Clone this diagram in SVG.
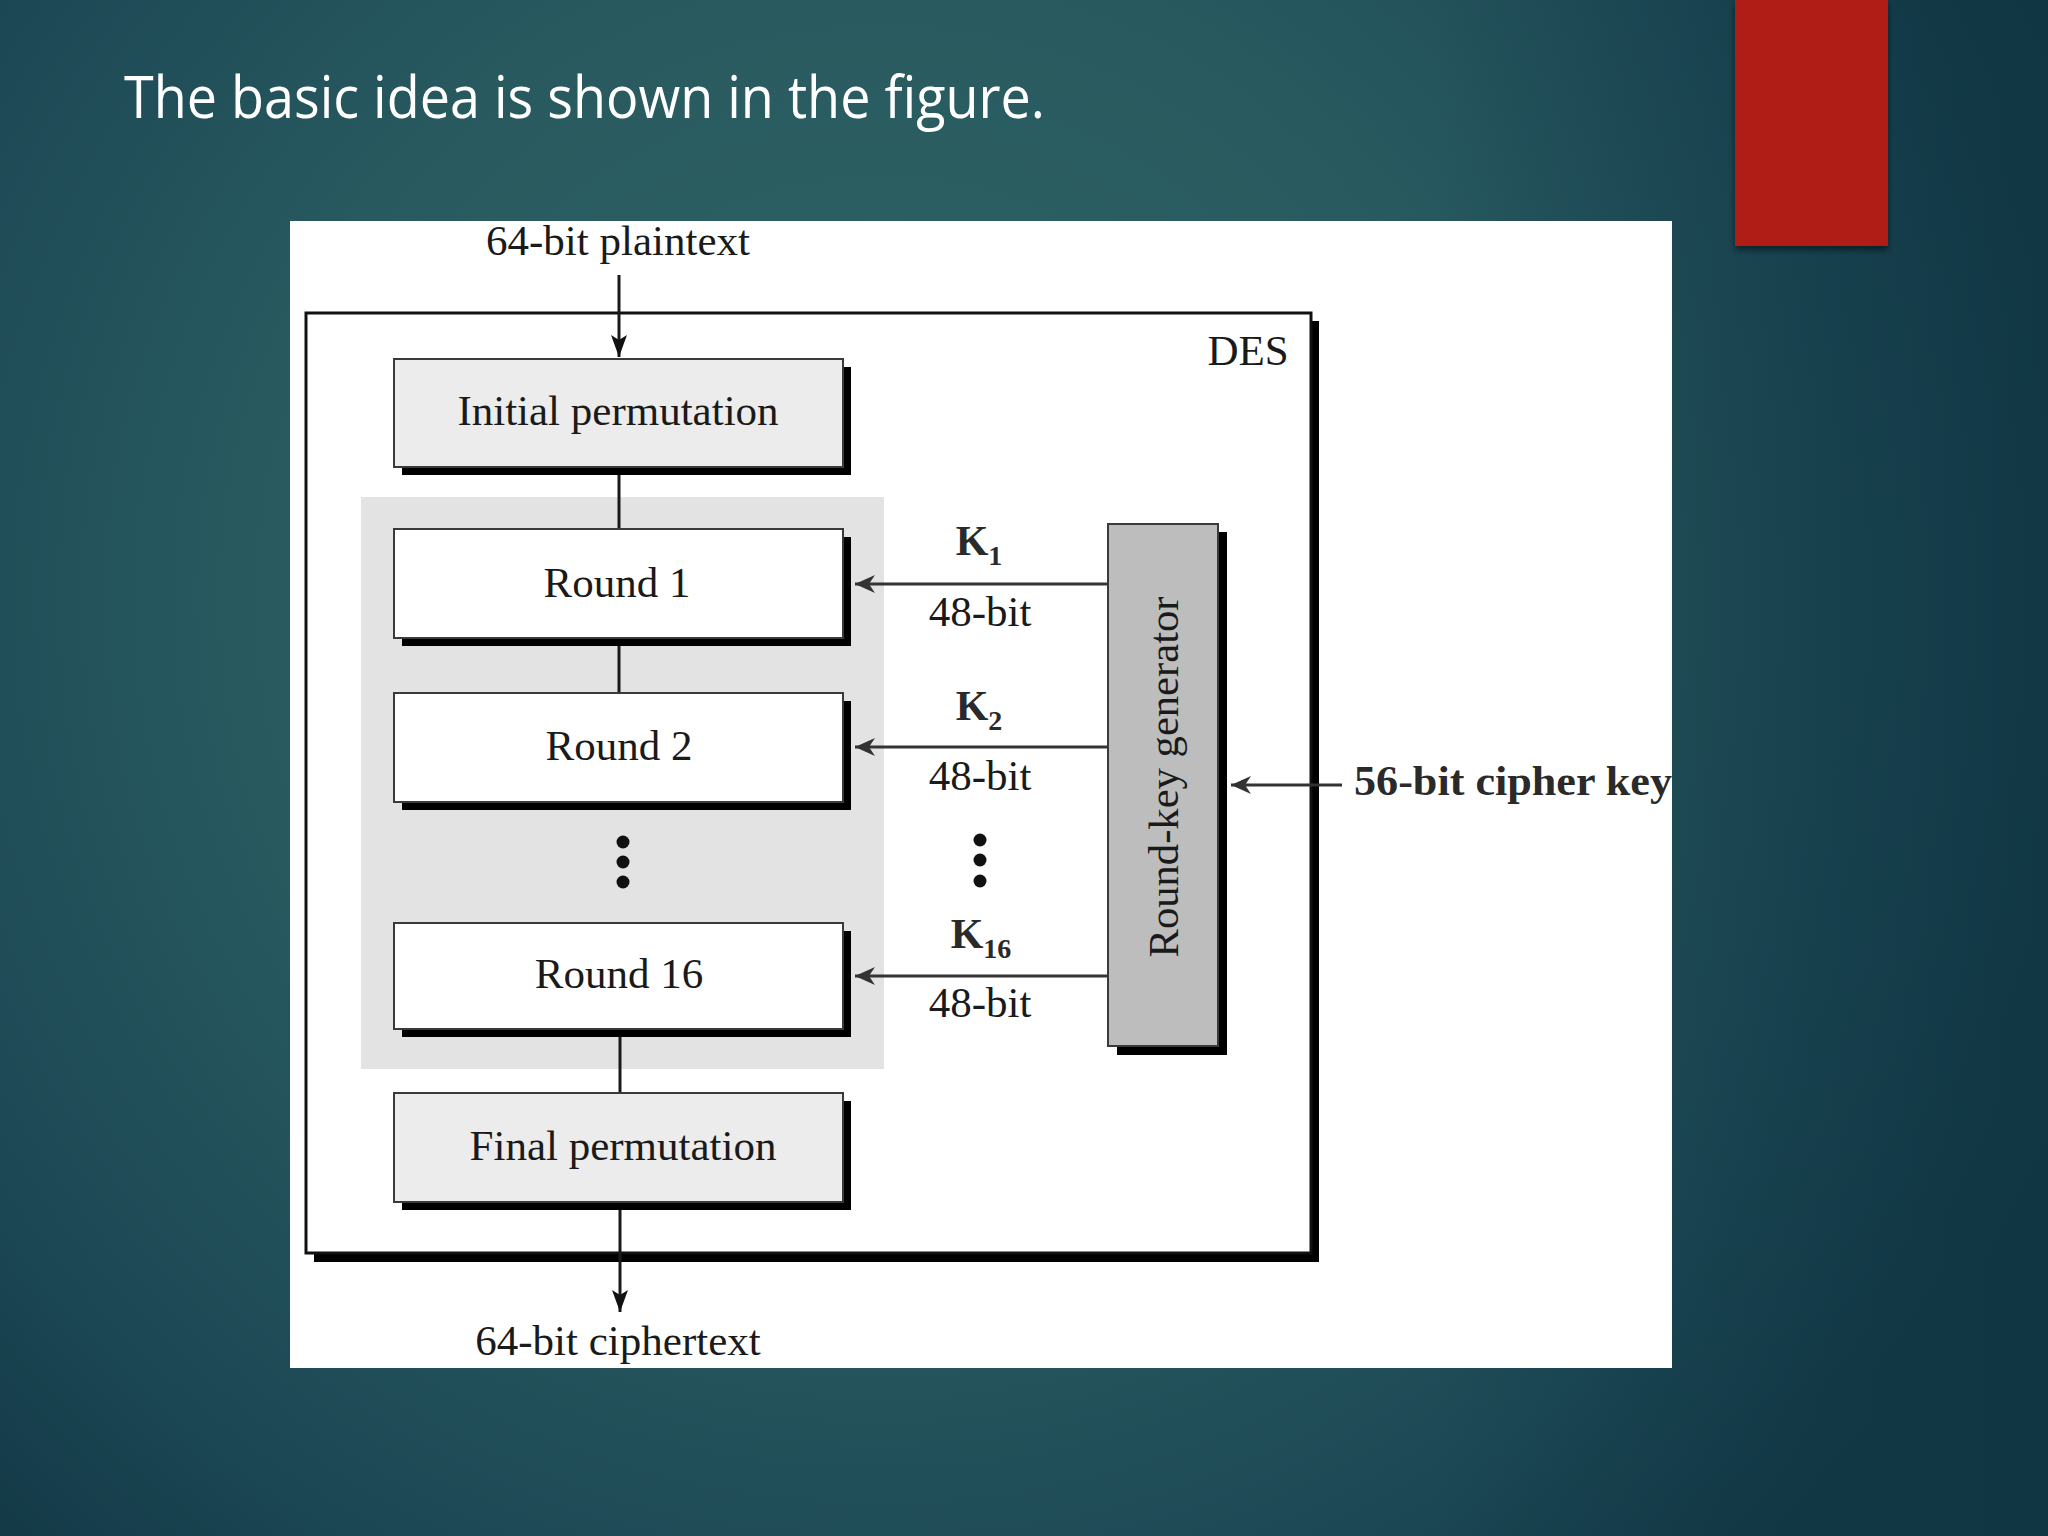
<svg xmlns="http://www.w3.org/2000/svg" width="2048" height="1536" viewBox="0 0 2048 1536">
  <defs>
    <radialGradient id="bg" cx="880" cy="600" r="1300" gradientUnits="userSpaceOnUse">
      <stop offset="0" stop-color="#2f6664"/>
      <stop offset="0.5" stop-color="#28595f"/>
      <stop offset="0.8" stop-color="#1c4855"/>
      <stop offset="1" stop-color="#133846"/>
    </radialGradient>
    <linearGradient id="rightDark" x1="0" y1="0" x2="1" y2="0">
      <stop offset="0" stop-color="#0f3442" stop-opacity="0"/>
      <stop offset="0.7" stop-color="#0f3442" stop-opacity="0"/>
      <stop offset="1" stop-color="#0f3442" stop-opacity="0.7"/>
    </linearGradient>
    <filter id="redShadow" x="-20%" y="-20%" width="140%" height="140%">
      <feDropShadow dx="0" dy="4" stdDeviation="3" flood-color="#000" flood-opacity="0.5"/>
    </filter>
    <clipPath id="panelClip">
      <rect x="290" y="221" width="1382" height="1147"/>
    </clipPath>
    <marker id="solidHead" viewBox="0 0 22 16" refX="22" refY="8" markerWidth="22" markerHeight="16" markerUnits="userSpaceOnUse" orient="auto">
      <path d="M0,0 L22,8 L0,16 L5,8 z" fill="#111"/>
    </marker>
    <marker id="barbHead" viewBox="0 0 20 18" refX="20" refY="9" markerWidth="20" markerHeight="18" markerUnits="userSpaceOnUse" orient="auto">
      <path d="M0,0 L20,9 L0,18 L6,9 z" fill="#333"/>
    </marker>
    <style>
      .serif { font-family: "Liberation Serif", "Times New Roman", serif; font-size: 43px; fill: #1a1a1a; }
      .bold { font-family: "Liberation Serif", "Times New Roman", serif; font-size: 42px; font-weight: bold; fill: #2a2a2a; }
      .shadow { fill: #000; }
      .box { stroke: #3a3a3a; stroke-width: 2; }
      .perm { fill: #ececec; }
      .round { fill: #ffffff; }
      .conn { stroke: #1a1a1a; stroke-width: 3; fill: none; }
      .key { stroke: #333; stroke-width: 3; fill: none; }
      .dot { fill: #111; }
    </style>
  </defs>

  <!-- slide background -->
  <rect x="0" y="0" width="2048" height="1536" fill="url(#bg)"/>
  <rect x="0" y="0" width="2048" height="1536" fill="url(#rightDark)"/>

  <!-- red accent -->
  <rect x="1735" y="0" width="153" height="246" fill="#b01a14" filter="url(#redShadow)"/>

  <!-- title -->
  <text x="124" y="118" font-family="'Open Sans', 'Noto Sans', sans-serif" font-size="58" fill="#ffffff" textLength="921" lengthAdjust="spacingAndGlyphs">The basic idea is shown in the figure.</text>

  <!-- figure panel -->
  <rect x="290" y="221" width="1382" height="1147" fill="#ffffff"/>

  <g clip-path="url(#panelClip)">
    <!-- DES container -->
    <g id="des">
      <rect x="314" y="321" width="1005" height="941" class="shadow"/>
      <rect x="306" y="313" width="1005" height="940" fill="#ffffff" stroke="#111" stroke-width="3"/>
      <text x="1248" y="365" class="serif" text-anchor="middle">DES</text>
    </g>

    <!-- rounds group background -->
    <g id="rounds-area">
      <rect x="361" y="497" width="523" height="572" fill="#e3e3e3"/>
    </g>

    <!-- connectors -->
    <g id="connectors">
      <line x1="619" y1="275" x2="619" y2="357" class="conn" marker-end="url(#solidHead)"/>
      <line x1="619" y1="467" x2="619" y2="529" class="conn"/>
      <line x1="619" y1="638" x2="619" y2="693" class="conn"/>
      <line x1="620" y1="1029" x2="620" y2="1093" class="conn"/>
      <line x1="620" y1="1202" x2="620" y2="1312" class="conn" marker-end="url(#solidHead)"/>
      <line x1="1108" y1="584" x2="855" y2="584" class="key" marker-end="url(#barbHead)"/>
      <line x1="1108" y1="747" x2="855" y2="747" class="key" marker-end="url(#barbHead)"/>
      <line x1="1108" y1="976" x2="855" y2="976" class="key" marker-end="url(#barbHead)"/>
      <line x1="1342" y1="785" x2="1231" y2="785" class="key" marker-end="url(#barbHead)"/>
    </g>

    <g id="initial-permutation">
      <rect x="402" y="367" width="449" height="108" class="shadow"/>
      <rect x="394" y="359" width="449" height="108" class="box perm"/>
      <text x="618" y="425" class="serif" text-anchor="middle">Initial permutation</text>
    </g>

    <g id="round-1">
      <rect x="402" y="537" width="449" height="109" class="shadow"/>
      <rect x="394" y="529" width="449" height="109" class="box round"/>
      <text x="617" y="597" class="serif" text-anchor="middle">Round 1</text>
    </g>

    <g id="round-2">
      <rect x="402" y="701" width="449" height="109" class="shadow"/>
      <rect x="394" y="693" width="449" height="109" class="box round"/>
      <text x="619" y="760" class="serif" text-anchor="middle">Round 2</text>
    </g>

    <g id="round-dots">
      <circle cx="623" cy="842" r="6.5" class="dot"/>
      <circle cx="623" cy="862" r="6.5" class="dot"/>
      <circle cx="623" cy="882" r="6.5" class="dot"/>
    </g>

    <g id="round-16">
      <rect x="402" y="931" width="449" height="106" class="shadow"/>
      <rect x="394" y="923" width="449" height="106" class="box round"/>
      <text x="619" y="988" class="serif" text-anchor="middle">Round 16</text>
    </g>

    <g id="final-permutation">
      <rect x="402" y="1101" width="449" height="109" class="shadow"/>
      <rect x="394" y="1093" width="449" height="109" class="box perm"/>
      <text x="623" y="1160" class="serif" text-anchor="middle">Final permutation</text>
    </g>

    <g id="round-key-generator">
      <rect x="1117" y="532" width="110" height="523" class="shadow"/>
      <rect x="1108" y="524" width="110" height="522" class="box" fill="#bdbdbd"/>
      <text transform="translate(1178 777) rotate(-90)" x="0" y="0" class="serif" font-size="43" text-anchor="middle" textLength="361" lengthAdjust="spacingAndGlyphs">Round-key generator</text>
    </g>

    <g id="key-labels">
      <text x="979" y="555" class="bold" text-anchor="middle">K<tspan dy="10" font-size="28">1</tspan></text>
      <text x="980" y="626" class="serif" text-anchor="middle">48-bit</text>
      <text x="979" y="720" class="bold" text-anchor="middle">K<tspan dy="10" font-size="28">2</tspan></text>
      <text x="980" y="790" class="serif" text-anchor="middle">48-bit</text>
      <circle cx="980" cy="840" r="6.5" class="dot"/>
      <circle cx="980" cy="860" r="6.5" class="dot"/>
      <circle cx="980" cy="881" r="6.5" class="dot"/>
      <text x="981" y="948" class="bold" text-anchor="middle">K<tspan dy="10" font-size="28">16</tspan></text>
      <text x="980" y="1017" class="serif" text-anchor="middle">48-bit</text>
    </g>

    <g id="io-labels">
      <text x="618" y="255" class="serif" text-anchor="middle">64-bit plaintext</text>
      <text x="618" y="1355" class="serif" text-anchor="middle">64-bit ciphertext</text>
      <text x="1354" y="795" class="bold" font-size="44" textLength="318" lengthAdjust="spacingAndGlyphs">56-bit cipher key</text>
    </g>
  </g>
</svg>
